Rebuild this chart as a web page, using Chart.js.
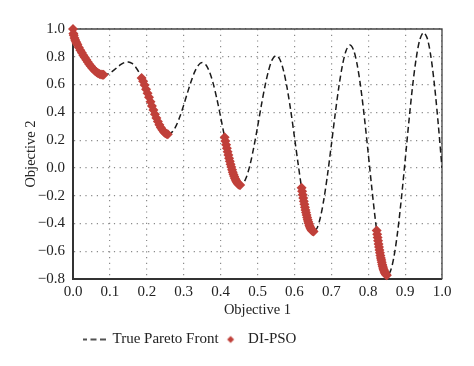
<!DOCTYPE html>
<html>
<head>
<meta charset="utf-8">
<script src="https://cdn.jsdelivr.net/npm/chart.js@4/dist/chart.umd.min.js"></script>
<style>
  html, body { margin: 0; padding: 0; background: #fff; }
  #wrap { width: 474px; height: 366px; }
</style>
</head>
<body>
<div id="wrap"><canvas id="chart" width="474" height="366"></canvas></div>
<script>
// Tick labels
const xTicks = [0.0, 0.1, 0.2, 0.3, 0.4, 0.5, 0.6, 0.7, 0.8, 0.9, 1.0];
const yTicks = [-0.8, -0.6, -0.4, -0.2, 0.0, 0.2, 0.4, 0.6, 0.8, 1.0];

// True Pareto front
const frontX = [0.00, 0.0025, 0.01, 0.02, 0.03, 0.04, 0.05, 0.06, 0.07, 0.08, 0.09,
    0.10, 0.11, 0.12, 0.13, 0.14, 0.15, 0.16, 0.17, 0.18, 0.19,
    0.20, 0.21, 0.22, 0.23, 0.24, 0.25, 0.26, 0.27, 0.28, 0.29,
    0.30, 0.31, 0.32, 0.33, 0.34, 0.35, 0.36, 0.37, 0.38, 0.39,
    0.40, 0.41, 0.42, 0.43, 0.44, 0.45, 0.46, 0.47, 0.48, 0.49,
    0.50, 0.51, 0.52, 0.53, 0.54, 0.55, 0.56, 0.57, 0.58, 0.59,
    0.60, 0.61, 0.62, 0.63, 0.64, 0.65, 0.66, 0.67, 0.68, 0.69,
    0.70, 0.71, 0.72, 0.73, 0.74, 0.75, 0.76, 0.77, 0.78, 0.79,
    0.80, 0.81, 0.82, 0.83, 0.84, 0.85, 0.86, 0.87, 0.88, 0.89,
    0.90, 0.91, 0.92, 0.93, 0.94, 0.95, 0.96, 0.97, 0.98, 0.99, 1.00];
const frontY = [1.000, 0.950, 0.897, 0.847, 0.803, 0.762, 0.726, 0.698, 0.679, 0.670, 0.672,
    0.684, 0.702, 0.724, 0.745, 0.759, 0.763, 0.752, 0.725, 0.682, 0.623,
    0.553, 0.477, 0.402, 0.334, 0.282, 0.250, 0.243, 0.262, 0.306, 0.372,
    0.452, 0.539, 0.622, 0.693, 0.740, 0.758, 0.742, 0.691, 0.607, 0.496,
    0.368, 0.233, 0.105, -0.004, -0.082, -0.121, -0.116, -0.066, 0.025, 0.149,
    0.293, 0.444, 0.585, 0.701, 0.779, 0.808, 0.784, 0.706, 0.579, 0.414,
    0.225, 0.031, -0.152, -0.303, -0.409, -0.456, -0.440, -0.361, -0.224, -0.044,
    0.163, 0.377, 0.575, 0.736, 0.844, 0.884, 0.851, 0.745, 0.575, 0.355,
    0.106, -0.150, -0.388, -0.583, -0.715, -0.772, -0.745, -0.637, -0.455, -0.218,
    0.051, 0.327, 0.582, 0.788, 0.925, 0.975, 0.933, 0.800, 0.586, 0.311, 0.000];

// DI-PSO solutions (five clusters)
const psoX = [0.000, 0.001, 0.002, 0.004, 0.006, 0.008, 0.010, 0.012, 0.016, 0.020, 0.024, 0.028, 0.032,
    0.036, 0.040, 0.044, 0.048, 0.052, 0.056, 0.060, 0.064, 0.068, 0.072, 0.076, 0.080, 0.083,
    0.186, 0.190, 0.194, 0.198, 0.202, 0.206, 0.210, 0.214, 0.218, 0.222, 0.226, 0.230, 0.234,
    0.238, 0.242, 0.246, 0.250, 0.254, 0.257,
    0.411, 0.413, 0.415, 0.417, 0.419, 0.421, 0.423, 0.425, 0.427, 0.429, 0.431, 0.433, 0.435,
    0.437, 0.439, 0.441, 0.443, 0.445, 0.447, 0.449, 0.451, 0.453,
    0.6195, 0.621, 0.6225, 0.624, 0.6255, 0.627, 0.6285, 0.630, 0.6315, 0.633, 0.6345, 0.636,
    0.6375, 0.639, 0.6405, 0.642, 0.6435, 0.645, 0.6465, 0.648, 0.6495, 0.652,
    0.823, 0.8243, 0.8255, 0.8268, 0.828, 0.8293, 0.8305, 0.8318, 0.833, 0.8343, 0.8355, 0.8368,
    0.838, 0.8393, 0.8405, 0.8418, 0.843, 0.8443, 0.8455, 0.8468, 0.848, 0.8493, 0.8505];
const psoY = [1.000, 0.968, 0.955, 0.936, 0.921, 0.909, 0.897, 0.886, 0.866, 0.847, 0.829, 0.811, 0.794,
    0.778, 0.762, 0.747, 0.733, 0.720, 0.708, 0.698, 0.689, 0.682, 0.676, 0.672, 0.670, 0.670,
    0.648, 0.623, 0.596, 0.567, 0.538, 0.508, 0.477, 0.446, 0.416, 0.387, 0.360, 0.334, 0.311,
    0.291, 0.274, 0.260, 0.250, 0.244, 0.242,
    0.220, 0.193, 0.167, 0.142, 0.117, 0.093, 0.070, 0.048, 0.026, 0.006, -0.013, -0.031, -0.047,
    -0.062, -0.076, -0.088, -0.098, -0.107, -0.114, -0.119, -0.122, -0.124,
    -0.143, -0.169, -0.193, -0.217, -0.240, -0.262, -0.283, -0.303, -0.322, -0.340, -0.357, -0.373,
    -0.387, -0.401, -0.413, -0.423, -0.432, -0.440, -0.447, -0.452, -0.455, -0.458,
    -0.451, -0.477, -0.501, -0.525, -0.548, -0.570, -0.591, -0.611, -0.630, -0.648, -0.664, -0.680,
    -0.695, -0.708, -0.720, -0.731, -0.741, -0.749, -0.757, -0.763, -0.767, -0.771, -0.773];

const seriesNames = ['True Pareto Front', 'DI-PSO'];
const psoColor = '#c0403a';
const serif = "'Liberation Serif', 'DejaVu Serif', serif";

function fmt(v) {
    if (Math.abs(v) < 1e-9) return '0.0';
    return v < 0 ? '\u2212' + Math.abs(v).toFixed(1) : v.toFixed(1);
}

// small legend icons
function makeLineIcon() {
    const c = document.createElement('canvas');
    c.width = 26; c.height = 6;
    const g = c.getContext('2d');
    g.strokeStyle = '#1a1a1a';
    g.lineWidth = 1.6;
    g.setLineDash([6, 3.5]);
    g.beginPath(); g.moveTo(0, 3); g.lineTo(26, 3); g.stroke();
    return c;
}
function makeDiamondIcon() {
    const c = document.createElement('canvas');
    c.width = 26; c.height = 10;
    const g = c.getContext('2d');
    g.fillStyle = psoColor;
    g.beginPath();
    g.moveTo(14, 1.5); g.lineTo(17.5, 5); g.lineTo(14, 8.5); g.lineTo(10.5, 5);
    g.closePath(); g.fill();
    return c;
}
const legendIcons = [makeLineIcon(), makeDiamondIcon()];

// frame on top and right + move legend to the left
const framePlugin = {
    id: 'frame',
    afterLayout(chart) {
        chart.legend.left = 83;
    },
    beforeDatasetsDraw(chart) {
        const {ctx, chartArea: a} = chart;
        ctx.save();
        ctx.strokeStyle = '#444';
        ctx.lineWidth = 1.3;
        ctx.beginPath();
        ctx.moveTo(a.left, a.top);
        ctx.lineTo(a.right, a.top);
        ctx.lineTo(a.right, a.bottom);
        ctx.stroke();
        ctx.restore();
    }
};

const ctx = document.getElementById('chart').getContext('2d');
new Chart(ctx, {
    type: 'scatter',
    data: {
        datasets: [{
            label: seriesNames[0],
            data: frontX.map((x, i) => ({x: x, y: frontY[i]})),
            showLine: true,
            borderColor: '#1a1a1a',
            borderWidth: 1.5,
            borderDash: [6, 3.5],
            pointRadius: 0,
            tension: 0.3,
            order: 2
        }, {
            label: seriesNames[1],
            data: psoX.map((x, i) => ({x: x, y: psoY[i]})),
            pointStyle: 'rectRot',
            pointRadius: 5,
            backgroundColor: psoColor,
            borderColor: psoColor,
            borderWidth: 0,
            clip: false,
            order: 1
        }]
    },
    options: {
        responsive: false,
        animation: false,
        layout: {
            padding: {top: 29, right: 32, left: 18, bottom: 9}
        },
        plugins: {
            tooltip: {enabled: false},
            legend: {
                position: 'bottom',
                align: 'start',
                labels: {
                    usePointStyle: true,
                    pointStyleWidth: 22,
                    padding: 0,
                    color: '#222',
                    font: {family: serif, size: 15},
                    generateLabels: () => seriesNames.map((name, i) => ({
                        text: name,
                        pointStyle: legendIcons[i],
                        fontColor: '#222',
                        hidden: false,
                        lineWidth: 0,
                        datasetIndex: i
                    }))
                }
            }
        },
        scales: {
            x: {
                type: 'linear',
                min: 0,
                max: 1,
                afterBuildTicks: s => { s.ticks = xTicks.map(v => ({value: v})); },
                afterFit: s => { s.height = 53; },
                ticks: {
                    callback: v => fmt(v),
                    color: '#222',
                    padding: 4,
                    maxRotation: 0,
                    font: {family: serif, size: 15}
                },
                grid: {
                    color: '#8a8a8a',
                    lineWidth: 1.2,
                    drawTicks: false
                },
                border: {display: true, color: '#333', width: 2, dash: [1.2, 4.5]},
                title: {
                    display: true,
                    text: 'Objective 1',
                    color: '#222',
                    padding: {top: 2, bottom: 13},
                    font: {family: serif, size: 14.5}
                }
            },
            y: {
                type: 'linear',
                min: -0.8,
                max: 1.0,
                afterBuildTicks: s => { s.ticks = yTicks.map(v => ({value: v})); },
                afterFit: s => { s.width = 55; },
                ticks: {
                    callback: v => fmt(v),
                    color: '#222',
                    padding: 8,
                    font: {family: serif, size: 15}
                },
                grid: {
                    color: '#8a8a8a',
                    lineWidth: 1.2,
                    drawTicks: false
                },
                border: {display: true, color: '#333', width: 2, dash: [1.2, 4.5]},
                title: {
                    display: true,
                    text: 'Objective 2',
                    color: '#222',
                    padding: {top: 4, bottom: 4},
                    font: {family: serif, size: 14.5}
                }
            }
        }
    },
    plugins: [framePlugin]
});
</script>
</body>
</html>
